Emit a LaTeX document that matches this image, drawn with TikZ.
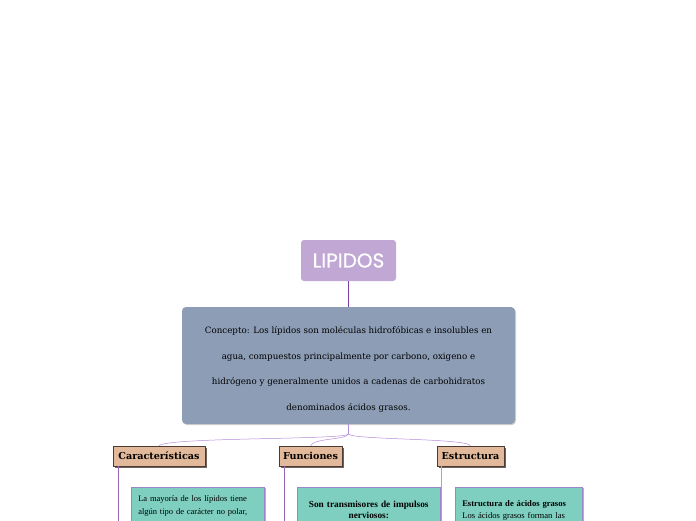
\documentclass[tikz,border=0pt]{standalone}
\usepackage{fontspec}
\setmainfont{Liberation Serif}
\newfontfamily\titlefont[FakeBold=0.6]{Poppins}
\newfontfamily\slabfont{DejaVu Serif}
\usetikzlibrary{shadows}

\definecolor{lipfill}{HTML}{C1A8D4}
\definecolor{conceptfill}{HTML}{8C9DB5}
\definecolor{tanfill}{HTML}{E2B99A}
\definecolor{tanedge}{HTML}{4A3B33}
\definecolor{greenfill}{HTML}{7ECFC0}
\definecolor{greenedge}{HTML}{9B86C8}
\definecolor{mainline}{HTML}{7D3FA5}
\definecolor{linkline}{HTML}{B38BD6}

\tikzset{
  title/.style={fill=lipfill, rounded corners=3pt, text=white, minimum width=95pt, minimum height=41pt, font=\titlefont\fontsize{20}{20}\selectfont},
  concept/.style={fill=conceptfill, rounded corners=4pt, minimum width=333pt, minimum height=117pt,
    drop shadow={shadow xshift=1pt, shadow yshift=-1pt, fill=gray!60, opacity=.6}},
  concepttext/.style={align=center, font=\slabfont\fontsize{8.7}{25.5}\selectfont},
  topic/.style={fill=tanfill, draw=tanedge, line width=.6pt, minimum height=20pt, inner sep=2pt, font=\slabfont\bfseries\fontsize{9.6}{9.6}\selectfont,
    drop shadow={shadow xshift=2pt, shadow yshift=-2pt, fill=tanedge!80, opacity=1}},
  leaf/.style={fill=greenfill, draw=greenedge, line width=.5pt, anchor=north west, text depth=30pt, inner xsep=7pt, inner ysep=5pt, font=\fontsize{8.5}{13}\selectfont,
    drop shadow={shadow xshift=2pt, shadow yshift=-1pt, fill=greenedge!70, opacity=1}},
  link/.style={draw=linkline, line width=.5pt},
  branch/.style={draw=mainline!80, line width=.8pt},
}

\begin{document}
\begin{tikzpicture}[x=1pt, y=-1pt]
  \useasboundingbox (0,0) rectangle (696,520);
  \clip (0,0) rectangle (696,520);

  \node[title] (lipidos) at (348.5,260.5) {LIPIDOS};
  \node[concept] (concepto) at (348.5,365.5) {};
  \node[concepttext] (conceptotexto) at ([yshift=-4pt]concepto.center) {Concepto: Los lípidos son moléculas hidrofóbicas e insolubles en\\
    agua, compuestos principalmente por carbono, oxigeno e\\
    hidrógeno y generalmente unidos a cadenas de carbohidratos\\
    denominados ácidos grasos.};

  \node[topic, minimum width=92pt] (caract) at (159,456) {Características};
  \node[topic, minimum width=63pt] (func) at (310.5,456) {Funciones};
  \node[topic, minimum width=67pt] (estr) at (470.5,456) {Estructura};

  % hojas (cortadas abajo)
  \node[leaf, text width=119pt, inner ysep=8pt] (hoja1) at (131,487) {La mayoría de los lípidos tiene\\ algún tipo de carácter no polar,\\ lo que significa};
  \node[leaf, text width=129pt, align=center, inner ysep=14pt, font=\bfseries\fontsize{9.3}{11}\selectfont] (hoja2) at (297,487) {Son transmisores de impulsos\\ nerviosos:};
  \node[leaf, text width=113pt, inner ysep=13pt, font=\fontsize{8.6}{12}\selectfont] (hoja3) at (455,487) {\textbf{Estructura de ácidos grasos}\\ Los ácidos grasos forman las};

  \coordinate (split) at (348.5,434);
  \coordinate (caractend) at (118,530);
  \coordinate (funcend) at (284,530);
  \coordinate (estrend) at (441,530);

  \draw[mainline, line width=.9pt] (lipidos.south) -- (concepto.north);
  \draw[link] (concepto.south) -- (split);
  \draw[link] (split) .. controls (345,440) and (168,437) .. (caract.north);
  \draw[link] (split) .. controls (346,440) and (314,438) .. (func.north);
  \draw[link] (split) .. controls (352,440) and (466,438) .. (estr.north);

  \draw[branch] (caractend |- caract.south) -- (caractend);
  \draw[branch] (funcend |- func.south) -- (funcend);
  \draw[branch, draw=greenedge!80] (estrend |- estr.south) -- (estrend);
\end{tikzpicture}
\end{document}
